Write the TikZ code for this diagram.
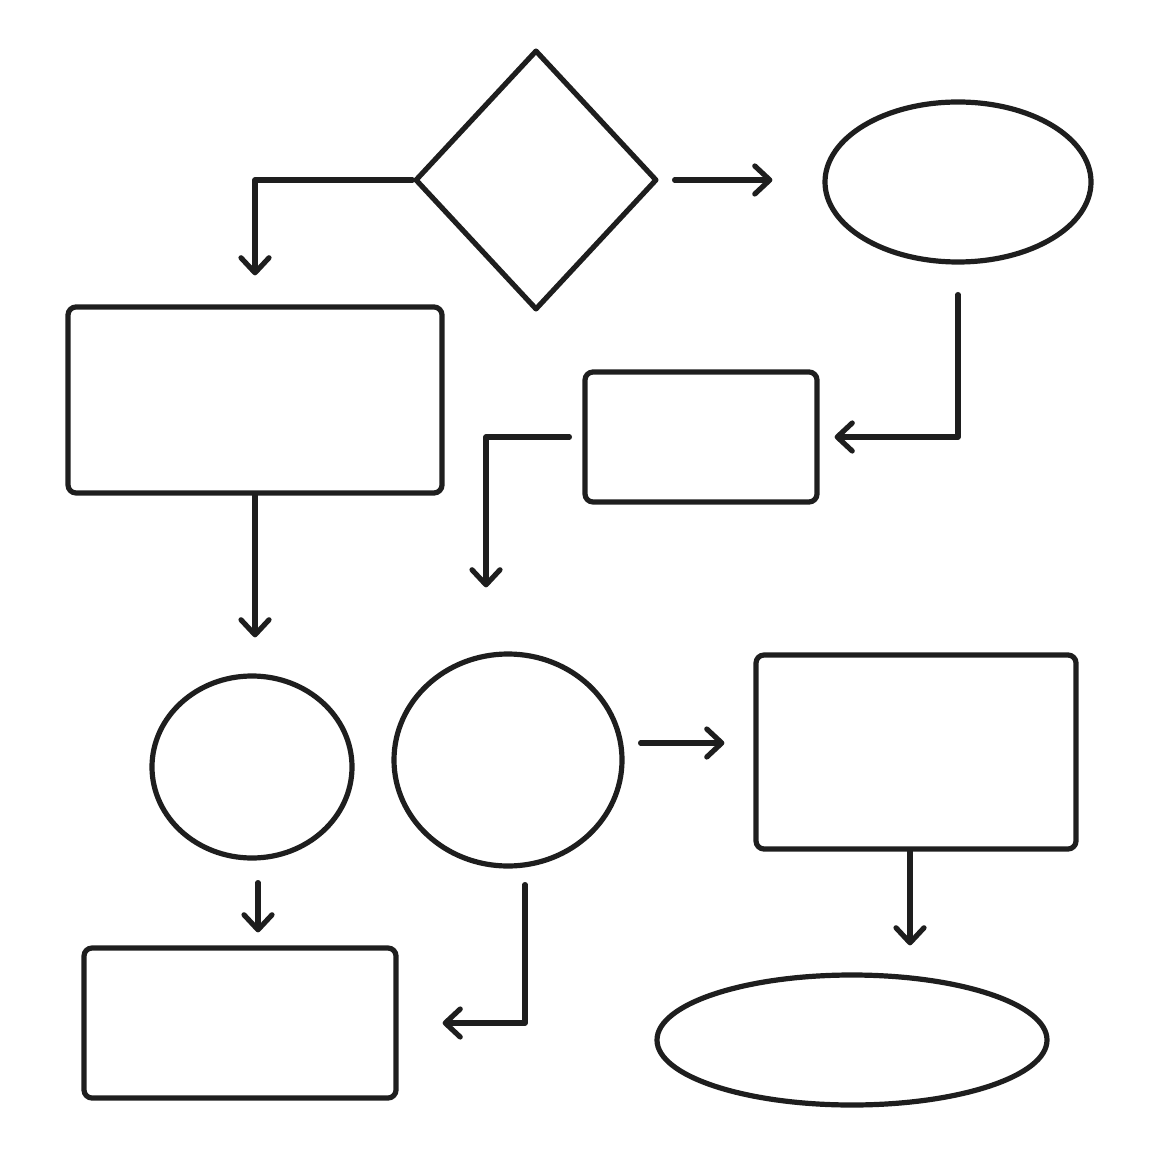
\documentclass[tikz,border=0pt]{standalone}
\usetikzlibrary{shapes.geometric,arrows.meta}
\definecolor{ink}{RGB}{30,30,30}
\begin{document}
\begin{tikzpicture}[x=0.5pt,y=-0.5pt,
    line width=2.6pt, line cap=round, line join=round, draw=ink,
    flow/.style={draw=ink,-{Straight Barb[round,length=7.5pt,width=14pt]}}]

        \useasboundingbox (0,0) rectangle (1160,1159);

        \begin{scope}[every node/.style={draw=ink,inner sep=0pt}]
          \node[diamond,minimum width=121pt,minimum height=130pt]   (dia)   at (536,180)  {};
          \node[ellipse,minimum width=133pt,minimum height=80pt]    (ell1)  at (958,182)  {};
          \node[rounded corners=4pt,minimum width=187pt,minimum height=93pt] (rect1) at (255,400) {};
          \node[rounded corners=4pt,minimum width=116pt,minimum height=65pt] (rect2) at (701,437) {};
          \node[ellipse,minimum width=100pt,minimum height=91pt]    (circ1) at (252,767)  {};
          \node[ellipse,minimum width=114pt,minimum height=106pt]   (circ2) at (508,760)  {};
          \node[rounded corners=4pt,minimum width=160pt,minimum height=97pt] (rect3) at (916,752) {};
          \node[rounded corners=4pt,minimum width=156pt,minimum height=75pt] (rect4) at (240,1023) {};
          \node[ellipse,minimum width=195pt,minimum height=65pt]    (ell2)  at (852,1040) {};
        \end{scope}

        \begin{scope}[every path/.style={flow}]
          \draw[shorten >=14.5pt] (dia.west) -| (rect1.north);
          \draw[shorten <=7.5pt,shorten >=25pt] (dia.east) -- (dia.east -| ell1.west);
          \draw[shorten <=15pt,shorten >=7.5pt] (ell1.south) |- (rect2.east);
          \draw[shorten <=6.5pt,shorten >=32pt] (rect2.west) -| ([xshift=-11pt]circ2.north);
          \draw[shorten >=18pt] (rect1.south) -- (rect1.south |- circ1.north);
          \draw[shorten <=11pt,shorten >=6.5pt] ([xshift=3pt]circ1.south) -- ([xshift=3pt]circ1.south |- rect4.north);
          \draw[shorten <=8pt,shorten >=22pt] ([xshift=8.5pt]circ2.south) |- (rect4.east);
          \draw[shorten <=8pt,shorten >=14.5pt] ([yshift=8.5pt]circ2.east) -- ([yshift=8.5pt]circ2.east -| rect3.west);
          \draw[shorten >=13.5pt] ([xshift=-3pt]rect3.south) -- ([xshift=-3pt]rect3.south |- ell2.north);
        \end{scope}

      \end{tikzpicture}
\end{document}
